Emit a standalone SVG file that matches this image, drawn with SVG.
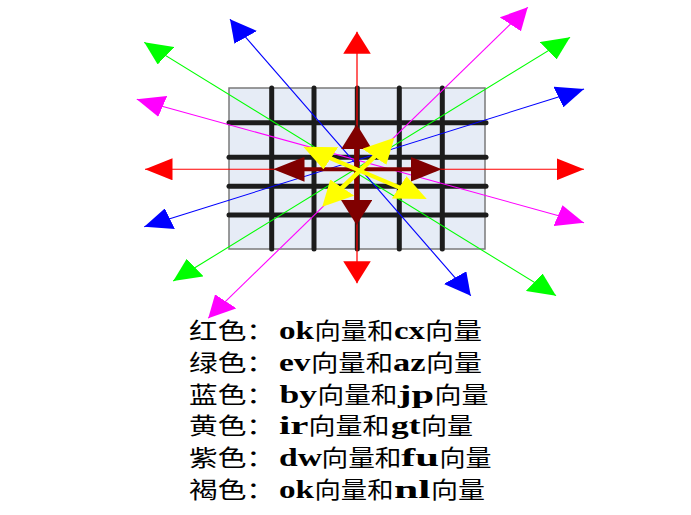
<svg xmlns="http://www.w3.org/2000/svg" width="691" height="515" viewBox="0 0 691 515">
<style>
.thin{fill:none;stroke-width:1}
.thick{fill:none;stroke-width:4}
.grid line{stroke:#1c1c1c;stroke-width:5;stroke-linecap:round}
.cj{font-family:"Noto Sans CJK SC","Noto Sans CJK JP",sans-serif;font-size:23px;fill:#000}
.la{font-family:"Liberation Serif","Times New Roman",serif;font-size:26px;font-weight:bold;fill:#000}
</style>
<defs>
<marker id="mR" markerUnits="userSpaceOnUse" markerWidth="22" markerHeight="22" refX="22" refY="11" orient="auto-start-reverse"><path d="M0,0 L22,11 L0,22 Z" fill="#ff0000"/></marker>
<marker id="mG" markerUnits="userSpaceOnUse" markerWidth="22" markerHeight="22" refX="22" refY="11" orient="auto-start-reverse"><path d="M0,0 L22,11 L0,22 Z" fill="#00ff00"/></marker>
<marker id="mB" markerUnits="userSpaceOnUse" markerWidth="22" markerHeight="22" refX="22" refY="11" orient="auto-start-reverse"><path d="M0,0 L22,11 L0,22 Z" fill="#0000ff"/></marker>
<marker id="mM" markerUnits="userSpaceOnUse" markerWidth="22" markerHeight="22" refX="22" refY="11" orient="auto-start-reverse"><path d="M0,0 L22,11 L0,22 Z" fill="#ff00ff"/></marker>
<marker id="mK" markerUnits="userSpaceOnUse" markerWidth="25" markerHeight="25" refX="20" refY="12.5" orient="auto-start-reverse"><path d="M0,0 L25,12.5 L0,25 Z" fill="#800000"/></marker>
<marker id="mY" markerUnits="userSpaceOnUse" markerWidth="25" markerHeight="25" refX="20" refY="12.5" orient="auto-start-reverse"><path d="M0,0 L25,12.5 L0,25 Z" fill="#ffff00"/></marker>
</defs>
<rect width="691" height="515" fill="#ffffff"/>
<g id="board">
<rect x="229" y="88" width="256" height="161" fill="#e6ecf6" stroke="#7a7a7a" stroke-width="1.5"/>
<g class="grid">
<line x1="271.7" y1="88" x2="271.7" y2="249"/>
<line x1="314" y1="88" x2="314" y2="249"/>
<line x1="357.3" y1="88" x2="357.3" y2="249"/>
<line x1="399.3" y1="88" x2="399.3" y2="249"/>
<line x1="442.3" y1="88" x2="442.3" y2="249"/>
<line x1="229" y1="122.7" x2="486" y2="122.7"/>
<line x1="229" y1="157.3" x2="486" y2="157.3"/>
<line x1="229" y1="186.3" x2="486" y2="186.3"/>
<line x1="229" y1="215" x2="486" y2="215"/>
</g>
</g>
<g id="connectors" transform="matrix(1.25,0,0,1,-89.25,0)">
<line class="thin" stroke="#ff0000" x1="187.4" y1="169.3" x2="538.6" y2="169.3" marker-start="url(#mR)" marker-end="url(#mR)"/>
<line class="thin" stroke="#ff0000" x1="357" y1="31.7" x2="357" y2="283.3" marker-start="url(#mR)" marker-end="url(#mR)"/>
<line class="thin" stroke="#00ff00" x1="186.8" y1="42.3" x2="516.2" y2="295.7" marker-start="url(#mG)" marker-end="url(#mG)"/>
<line class="thin" stroke="#00ff00" x1="527.4" y1="37.3" x2="210" y2="281" marker-start="url(#mG)" marker-end="url(#mG)"/>
<line class="thin" stroke="#0000ff" x1="255.4" y1="19.3" x2="448" y2="295.7" marker-start="url(#mB)" marker-end="url(#mB)"/>
<line class="thin" stroke="#0000ff" x1="538.6" y1="89" x2="186.8" y2="226.7" marker-start="url(#mB)" marker-end="url(#mB)"/>
<line class="thin" stroke="#ff00ff" x1="493.6" y1="7.3" x2="238" y2="318.3" marker-start="url(#mM)" marker-end="url(#mM)"/>
<line class="thin" stroke="#ff00ff" x1="180.8" y1="99.3" x2="538.6" y2="222.7" marker-start="url(#mM)" marker-end="url(#mM)"/>
<line class="thick" stroke="#800000" x1="356.7" y1="129.3" x2="356.7" y2="220" marker-start="url(#mK)" marker-end="url(#mK)"/>
<line class="thick" stroke="#800000" x1="295" y1="169.3" x2="419.8" y2="169.3" marker-start="url(#mK)" marker-end="url(#mK)"/>
<line class="thick" stroke="#ffff00" x1="318.4" y1="149" x2="408.4" y2="196.7" marker-start="url(#mY)" marker-end="url(#mY)"/>
<line class="thick" stroke="#ffff00" x1="383.7" y1="141.5" x2="332.4" y2="202.9" marker-start="url(#mY)" marker-end="url(#mY)"/>
</g>
<g id="legend">
<g id="row1">
<text class="cj" x="189" y="339" textLength="86" lengthAdjust="spacingAndGlyphs">红色：</text>
<text class="la" x="279" y="339" textLength="35" lengthAdjust="spacingAndGlyphs">ok</text>
<text class="cj" x="314.5" y="339" textLength="79" lengthAdjust="spacingAndGlyphs">向量和</text>
<text class="la" x="394" y="339" textLength="31" lengthAdjust="spacingAndGlyphs">cx</text>
<text class="cj" x="425" y="339" textLength="57" lengthAdjust="spacingAndGlyphs">向量</text>
</g>
<g id="row2">
<text class="cj" x="189" y="370.8" textLength="86" lengthAdjust="spacingAndGlyphs">绿色：</text>
<text class="la" x="279" y="370.8" textLength="31.5" lengthAdjust="spacingAndGlyphs">ev</text>
<text class="cj" x="311" y="370.8" textLength="82" lengthAdjust="spacingAndGlyphs">向量和</text>
<text class="la" x="393" y="370.8" textLength="32.5" lengthAdjust="spacingAndGlyphs">az</text>
<text class="cj" x="426" y="370.8" textLength="56" lengthAdjust="spacingAndGlyphs">向量</text>
</g>
<g id="row3">
<text class="cj" x="189" y="402.6" textLength="86" lengthAdjust="spacingAndGlyphs">蓝色：</text>
<text class="la" x="279.5" y="402.6" textLength="37.5" lengthAdjust="spacingAndGlyphs">by</text>
<text class="cj" x="317.5" y="402.6" textLength="80" lengthAdjust="spacingAndGlyphs">向量和</text>
<text class="la" x="398" y="402.6" textLength="36" lengthAdjust="spacingAndGlyphs">jp</text>
<text class="cj" x="434.5" y="402.6" textLength="54" lengthAdjust="spacingAndGlyphs">向量</text>
</g>
<g id="row4">
<text class="cj" x="189" y="434.4" textLength="86" lengthAdjust="spacingAndGlyphs">黄色：</text>
<text class="la" x="279" y="434.4" textLength="29.5" lengthAdjust="spacingAndGlyphs">ir</text>
<text class="cj" x="308.5" y="434.4" textLength="81" lengthAdjust="spacingAndGlyphs">向量和</text>
<text class="la" x="391" y="434.4" textLength="29.5" lengthAdjust="spacingAndGlyphs">gt</text>
<text class="cj" x="421" y="434.4" textLength="52" lengthAdjust="spacingAndGlyphs">向量</text>
</g>
<g id="row5">
<text class="cj" x="189" y="466.2" textLength="86" lengthAdjust="spacingAndGlyphs">紫色：</text>
<text class="la" x="279" y="466.2" textLength="43" lengthAdjust="spacingAndGlyphs">dw</text>
<text class="cj" x="321.5" y="466.2" textLength="80" lengthAdjust="spacingAndGlyphs">向量和</text>
<text class="la" x="401" y="466.2" textLength="38" lengthAdjust="spacingAndGlyphs">fu</text>
<text class="cj" x="439.5" y="466.2" textLength="52" lengthAdjust="spacingAndGlyphs">向量</text>
</g>
<g id="row6">
<text class="cj" x="189" y="498" textLength="86" lengthAdjust="spacingAndGlyphs">褐色：</text>
<text class="la" x="279" y="498" textLength="35" lengthAdjust="spacingAndGlyphs">ok</text>
<text class="cj" x="314.5" y="498" textLength="79" lengthAdjust="spacingAndGlyphs">向量和</text>
<text class="la" x="394" y="498" textLength="36.5" lengthAdjust="spacingAndGlyphs">nl</text>
<text class="cj" x="431" y="498" textLength="54" lengthAdjust="spacingAndGlyphs">向量</text>
</g>
</g>
</svg>
